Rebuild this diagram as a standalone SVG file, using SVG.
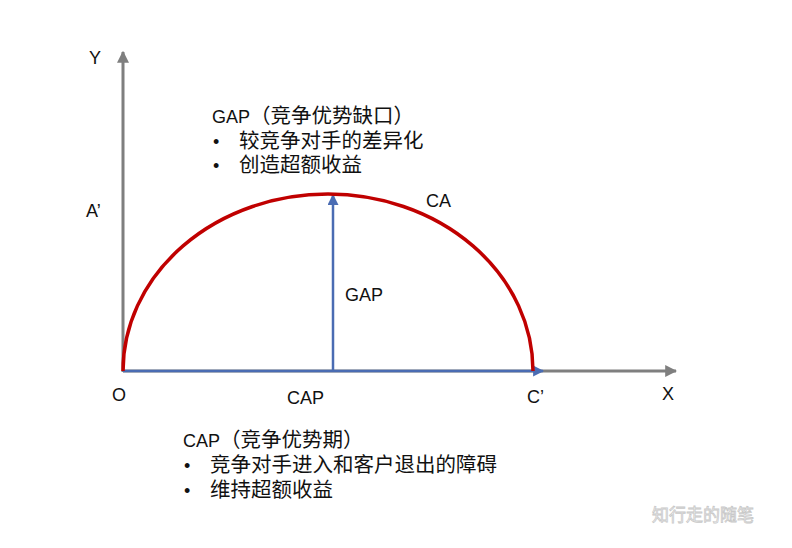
<svg xmlns="http://www.w3.org/2000/svg" width="792" height="548" viewBox="0 0 792 548">
<defs>
<style>
text{font-family:"Liberation Sans","Noto Sans CJK SC",sans-serif;font-size:18px;fill:#111}
.note{font-size:19px}
.cjk{font-size:20.5px}
.ax{stroke:#7f7f7f;stroke-width:3;fill:none}
.bl{stroke:#4a6cb3;stroke-width:2.5;fill:none}
</style>
<marker id="ag" viewBox="0 0 10 10" refX="9" refY="5" markerWidth="4" markerHeight="4" orient="auto" markerUnits="strokeWidth"><path d="M0,0L10,5L0,10z" fill="#7f7f7f"/></marker>
<marker id="ab" viewBox="0 0 10 10" refX="9" refY="5" markerWidth="4.4" markerHeight="4.4" orient="auto" markerUnits="strokeWidth"><path d="M0,0L10,5L0,10z" fill="#4a6cb3"/></marker>
</defs>
<rect width="792" height="548" fill="#fff"/>
<g id="connectors">
<line class="ax" x1="123" y1="372" x2="123" y2="52" marker-end="url(#ag)"/>
<line class="ax" x1="123" y1="371" x2="676" y2="371" marker-end="url(#ag)"/>
<line class="bl" x1="123" y1="371" x2="543" y2="371" marker-end="url(#ab)"/>
<line class="bl" x1="333" y1="371" x2="333" y2="195" marker-end="url(#ab)"/>
</g>
<g id="arc-CA"><path d="M123,371 A205,177 0 0 1 533,371" fill="none" stroke="#c00000" stroke-width="3.5"/></g>
<g id="labels">
<text x="89" y="64">Y</text>
<text x="86" y="217">A’</text>
<text x="112" y="401">O</text>
<text x="287" y="404">CAP</text>
<text x="527" y="403">C’</text>
<text x="662" y="400">X</text>
<text x="345" y="301">GAP</text>
<text x="426" y="207">CA</text>
</g>
<g id="gap-note" class="note">
<text x="212" y="123">GAP<tspan class="cjk">（竞争优势缺口）</tspan></text>
<text x="213" y="148">•</text><text class="cjk" x="239" y="148">较竞争对手的差异化</text>
<text x="213" y="172">•</text><text class="cjk" x="239" y="172">创造超额收益</text>
</g>
<g id="cap-note" class="note">
<text x="183" y="447">CAP<tspan class="cjk">（竞争优势期）</tspan></text>
<text x="184" y="472">•</text><text class="cjk" x="210" y="472">竞争对手进入和客户退出的障碍</text>
<text x="184" y="497">•</text><text class="cjk" x="210" y="497">维持超额收益</text>
</g>
<g id="watermark"><text x="652" y="521" style="font-size:17px;fill:#fff;stroke:#c8c8c8;stroke-width:0.8">知行走的随笔</text></g>
</svg>
